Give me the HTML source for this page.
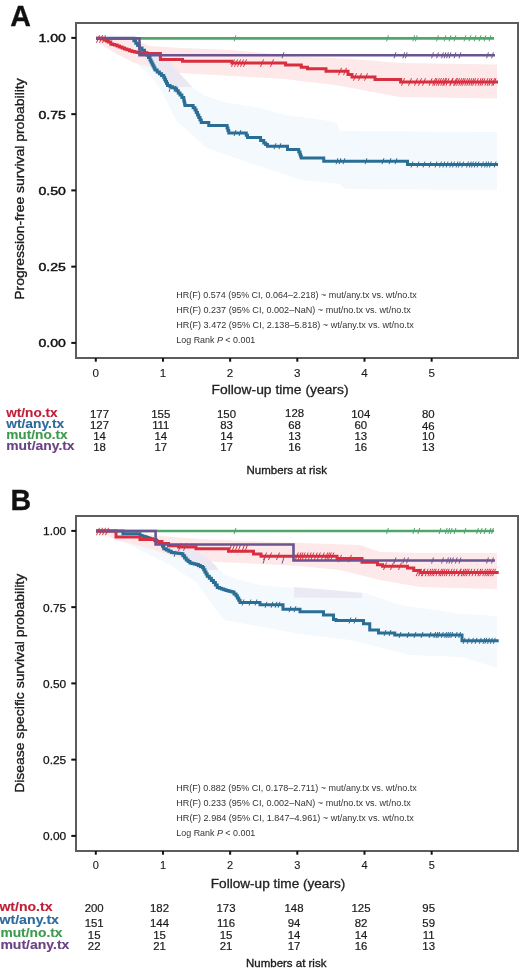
<!DOCTYPE html>
<html><head><meta charset="utf-8"><title>Kaplan-Meier survival curves</title><style>html,body{margin:0;padding:0;background:#fff;width:520px;height:970px;overflow:hidden}svg{display:block}</style></head><body>
<svg width="520" height="970" viewBox="0 0 520 970" font-family="'Liberation Sans', Arial, Helvetica, sans-serif">
<rect width="520" height="970" fill="#ffffff"/>
<polygon fill="#f4f9fd" points="132.0,38.3 140.0,42.0 150.0,47.0 160.0,53.0 192.0,87.0 205.0,96.0 226.0,102.5 260.0,108.0 286.0,115.0 336.0,122.0 340.0,131.0 497.0,132.0 497.0,190.0 345.0,189.0 340.0,184.0 301.0,180.0 241.0,160.0 206.0,147.5 176.0,120.0 161.0,90.0 150.0,75.0 130.0,58.0 110.0,45.0 96.0,38.3"/>
<polygon fill="#fde8ea" points="96.0,38.3 125.0,38.3 140.0,42.0 150.0,46.0 182.0,48.0 232.0,50.0 286.0,55.0 301.0,57.0 335.0,58.0 352.0,59.0 400.0,63.0 497.0,64.5 497.0,98.5 400.0,97.0 352.0,88.0 335.0,85.0 301.0,81.0 286.0,79.0 232.0,76.0 182.0,73.0 160.0,70.0 150.0,67.0 134.0,63.0 117.0,54.0 100.0,44.0 96.0,38.3"/>
<polygon fill="#ebe8f3" points="142.0,55.0 163.0,55.0 192.0,87.0 168.0,87.0 158.0,75.0 150.0,63.0"/>
<g fill="none" stroke-linejoin="miter" stroke-linecap="butt">
<path d="M96,38.3 H494" stroke="#4fa76c" stroke-width="2.7"/>
<path d="M96.00,38.30 L132.00,38.30 H133.88 V40.72 H135.75 V43.15 H137.62 V45.58 H139.50 V48.00 H142.00 V50.33 H144.50 V52.67 H147.00 V55.00 H148.50 V57.50 H150.00 V60.00 H151.00 V62.00 H152.00 V64.00 H153.00 V66.00 H154.00 V68.00 H155.00 V70.00 H157.19 V71.88 H159.38 V73.75 H161.56 V75.62 H163.75 V77.50 H164.69 V79.53 H165.62 V81.55 H166.56 V83.57 H167.50 V85.60 H170.00 V86.65 H172.50 V87.70 H175.00 V88.75 H176.67 V90.83 H178.33 V92.92 H180.00 V95.00 H181.88 V97.50 H183.75 V100.00 H184.17 V101.87 H184.58 V103.73 H185.00 V105.60 L191.25,105.60 H193.12 V107.80 H195.00 V110.00 H196.25 V112.50 H197.50 V115.00 H198.75 V117.50 H200.00 V120.00 H201.25 V122.50 L208.75,122.50 L208.75,125.60 L226.25,125.60 H227.08 V128.07 H227.92 V130.53 H228.75 V133.00 L245.00,133.00 H246.25 V135.25 H247.50 V137.50 L260.60,137.50 L260.60,140.60 H263.75 V143.00 H265.62 V144.62 H267.50 V146.25 L287.50,146.25 L287.50,149.40 L297.50,149.40 H298.75 V151.90 H300.00 V154.40 H300.62 V156.25 H301.25 V158.10 L323.75,158.10 L323.75,161.25 L407.50,161.25 L407.50,164.50 L498.00,164.50" stroke="#2b6e95" stroke-width="3.0"/>
<path d="M96.00,38.30 L100.00,38.30 H102.00 V38.90 H104.50 V40.10 H106.38 V41.05 H108.25 V42.00 H110.75 V43.90 H112.62 V44.50 H114.50 V45.10 H117.00 V46.05 H119.50 V47.00 H122.00 V47.95 H124.50 V48.90 H127.00 V49.83 H129.50 V50.75 H132.00 V51.38 H134.50 V52.00 H137.00 V52.62 H139.50 V53.25 H142.00 V53.42 H144.50 V53.60 L160.40,53.60 L160.40,59.40 L182.50,59.40 L182.50,61.25 L231.90,61.25 L231.90,63.10 L285.60,63.10 L285.60,65.00 L301.25,65.00 L301.25,67.25 L307.50,67.25 L307.50,68.75 L326.00,68.75 L326.00,71.25 L348.00,71.25 L348.00,74.40 L352.00,74.40 L352.00,76.90 L375.00,76.90 L375.00,79.40 L400.60,79.40 L400.60,81.90 L498.00,81.90" stroke="#d72f40" stroke-width="3.0"/>
<path d="M96,38.3 H139.5 V55.3 H495" stroke="#6b5490" stroke-width="2.6"/>
</g>
<g stroke="#4fa76c" stroke-width="1.0"><line x1="234.1" y1="41.3" x2="235.9" y2="35.3"/><line x1="386.6" y1="41.3" x2="388.4" y2="35.3"/><line x1="412.9" y1="41.3" x2="414.6" y2="35.3"/><line x1="415.4" y1="41.3" x2="417.1" y2="35.3"/><line x1="436.6" y1="41.3" x2="438.4" y2="35.3"/><line x1="444.1" y1="41.3" x2="445.9" y2="35.3"/><line x1="449.1" y1="41.3" x2="450.9" y2="35.3"/><line x1="454.1" y1="41.3" x2="455.9" y2="35.3"/><line x1="464.1" y1="41.3" x2="465.9" y2="35.3"/><line x1="469.1" y1="41.3" x2="470.9" y2="35.3"/><line x1="474.1" y1="41.3" x2="475.9" y2="35.3"/><line x1="479.1" y1="41.3" x2="480.9" y2="35.3"/><line x1="484.1" y1="41.3" x2="485.9" y2="35.3"/><line x1="489.1" y1="41.3" x2="490.9" y2="35.3"/></g>
<g stroke="#6b5490" stroke-width="1.0"><line x1="282.1" y1="58.3" x2="283.9" y2="52.3"/><line x1="394.1" y1="58.3" x2="395.9" y2="52.3"/><line x1="402.9" y1="58.3" x2="404.6" y2="52.3"/><line x1="405.4" y1="58.3" x2="407.1" y2="52.3"/><line x1="431.6" y1="58.3" x2="433.4" y2="52.3"/><line x1="436.6" y1="58.3" x2="438.4" y2="52.3"/><line x1="441.6" y1="58.3" x2="443.4" y2="52.3"/><line x1="444.1" y1="58.3" x2="445.9" y2="52.3"/><line x1="446.6" y1="58.3" x2="448.4" y2="52.3"/><line x1="449.1" y1="58.3" x2="450.9" y2="52.3"/><line x1="454.1" y1="58.3" x2="455.9" y2="52.3"/><line x1="459.1" y1="58.3" x2="460.9" y2="52.3"/><line x1="486.6" y1="58.3" x2="488.4" y2="52.3"/><line x1="491.6" y1="58.3" x2="493.4" y2="52.3"/></g>
<g stroke="#d72f40" stroke-width="1.0"><line x1="96.5" y1="42.8" x2="99.5" y2="35.2"/><line x1="99.5" y1="42.8" x2="102.5" y2="35.2"/><line x1="102.5" y1="42.8" x2="105.5" y2="35.2"/></g>
<g stroke="#d72f40" stroke-width="1.0"><line x1="231.5" y1="66.8" x2="234.5" y2="59.4"/><line x1="234.5" y1="66.8" x2="237.5" y2="59.4"/><line x1="237.5" y1="66.8" x2="240.5" y2="59.4"/><line x1="240.5" y1="66.8" x2="243.5" y2="59.4"/><line x1="243.5" y1="66.8" x2="246.5" y2="59.4"/><line x1="260.5" y1="66.8" x2="263.5" y2="59.4"/><line x1="270.5" y1="66.8" x2="273.5" y2="59.4"/></g>
<g stroke="#d72f40" stroke-width="1.0"><line x1="338.5" y1="75.2" x2="341.5" y2="67.8"/><line x1="343.5" y1="75.2" x2="346.5" y2="67.8"/></g>
<g stroke="#d72f40" stroke-width="1.0"><line x1="353.5" y1="80.7" x2="356.5" y2="73.2"/><line x1="358.5" y1="80.7" x2="361.5" y2="73.2"/><line x1="364.5" y1="80.7" x2="367.5" y2="73.2"/></g>
<g stroke="#d72f40" stroke-width="1.0"><line x1="401.5" y1="85.7" x2="404.5" y2="78.2"/><line x1="408.5" y1="85.7" x2="411.5" y2="78.2"/><line x1="414.5" y1="85.7" x2="417.5" y2="78.2"/><line x1="418.5" y1="85.7" x2="421.5" y2="78.2"/><line x1="422.5" y1="85.7" x2="425.5" y2="78.2"/><line x1="429.1" y1="85.7" x2="432.1" y2="78.2"/><line x1="432.6" y1="85.7" x2="435.6" y2="78.2"/><line x1="434.1" y1="85.7" x2="437.1" y2="78.2"/><line x1="436.4" y1="85.7" x2="439.4" y2="78.2"/><line x1="438.4" y1="85.7" x2="441.4" y2="78.2"/><line x1="440.7" y1="85.7" x2="443.7" y2="78.2"/><line x1="442.7" y1="85.7" x2="445.7" y2="78.2"/><line x1="443.7" y1="85.7" x2="446.7" y2="78.2"/><line x1="446.0" y1="85.7" x2="449.0" y2="78.2"/><line x1="449.7" y1="85.7" x2="452.7" y2="78.2"/><line x1="450.1" y1="85.7" x2="453.1" y2="78.2"/><line x1="453.5" y1="85.7" x2="456.5" y2="78.2"/><line x1="454.6" y1="85.7" x2="457.6" y2="78.2"/><line x1="456.5" y1="85.7" x2="459.5" y2="78.2"/><line x1="458.7" y1="85.7" x2="461.7" y2="78.2"/><line x1="460.7" y1="85.7" x2="463.7" y2="78.2"/><line x1="462.4" y1="85.7" x2="465.4" y2="78.2"/><line x1="464.7" y1="85.7" x2="467.7" y2="78.2"/><line x1="466.7" y1="85.7" x2="469.7" y2="78.2"/><line x1="468.8" y1="85.7" x2="471.8" y2="78.2"/><line x1="470.9" y1="85.7" x2="473.9" y2="78.2"/><line x1="472.6" y1="85.7" x2="475.6" y2="78.2"/><line x1="475.3" y1="85.7" x2="478.3" y2="78.2"/><line x1="478.1" y1="85.7" x2="481.1" y2="78.2"/><line x1="480.0" y1="85.7" x2="483.0" y2="78.2"/><line x1="481.9" y1="85.7" x2="484.9" y2="78.2"/><line x1="484.9" y1="85.7" x2="487.9" y2="78.2"/><line x1="487.2" y1="85.7" x2="490.2" y2="78.2"/><line x1="489.0" y1="85.7" x2="492.0" y2="78.2"/><line x1="491.7" y1="85.7" x2="494.7" y2="78.2"/><line x1="493.0" y1="85.7" x2="496.0" y2="78.2"/></g>
<g stroke="#2b6e95" stroke-width="1.0"><line x1="169.1" y1="91.8" x2="170.9" y2="85.8"/><line x1="174.1" y1="91.8" x2="175.9" y2="85.8"/></g>
<g stroke="#2b6e95" stroke-width="1.0"><line x1="234.1" y1="136.0" x2="235.9" y2="130.0"/><line x1="239.1" y1="136.0" x2="240.9" y2="130.0"/></g>
<g stroke="#2b6e95" stroke-width="1.0"><line x1="274.1" y1="149.2" x2="275.9" y2="143.2"/><line x1="279.1" y1="149.2" x2="280.9" y2="143.2"/></g>
<g stroke="#2b6e95" stroke-width="1.0"><line x1="336.1" y1="164.2" x2="337.9" y2="158.2"/><line x1="339.1" y1="164.2" x2="340.9" y2="158.2"/><line x1="343.1" y1="164.2" x2="344.9" y2="158.2"/><line x1="365.1" y1="164.2" x2="366.9" y2="158.2"/><line x1="382.1" y1="164.2" x2="383.9" y2="158.2"/><line x1="389.1" y1="164.2" x2="390.9" y2="158.2"/><line x1="395.1" y1="164.2" x2="396.9" y2="158.2"/></g>
<g stroke="#2b6e95" stroke-width="1.0"><line x1="411.1" y1="167.5" x2="412.9" y2="161.5"/><line x1="417.1" y1="167.5" x2="418.9" y2="161.5"/><line x1="423.1" y1="167.5" x2="424.9" y2="161.5"/><line x1="429.1" y1="167.5" x2="430.9" y2="161.5"/><line x1="435.1" y1="167.5" x2="436.9" y2="161.5"/><line x1="439.6" y1="167.5" x2="441.4" y2="161.5"/><line x1="442.9" y1="167.5" x2="444.7" y2="161.5"/><line x1="446.2" y1="167.5" x2="448.0" y2="161.5"/><line x1="449.8" y1="167.5" x2="451.6" y2="161.5"/><line x1="452.6" y1="167.5" x2="454.4" y2="161.5"/><line x1="456.1" y1="167.5" x2="457.9" y2="161.5"/><line x1="458.4" y1="167.5" x2="460.2" y2="161.5"/><line x1="461.8" y1="167.5" x2="463.6" y2="161.5"/><line x1="466.6" y1="167.5" x2="468.4" y2="161.5"/><line x1="469.4" y1="167.5" x2="471.2" y2="161.5"/><line x1="471.6" y1="167.5" x2="473.4" y2="161.5"/><line x1="474.3" y1="167.5" x2="476.1" y2="161.5"/><line x1="477.1" y1="167.5" x2="478.9" y2="161.5"/><line x1="481.5" y1="167.5" x2="483.3" y2="161.5"/><line x1="484.6" y1="167.5" x2="486.4" y2="161.5"/><line x1="486.9" y1="167.5" x2="488.7" y2="161.5"/><line x1="489.5" y1="167.5" x2="491.3" y2="161.5"/><line x1="494.2" y1="167.5" x2="496.0" y2="161.5"/></g>
<polygon fill="#f4f9fd" points="123.0,531.0 145.0,533.0 165.0,540.0 180.0,546.0 196.0,551.0 208.0,558.0 218.0,568.0 225.0,575.0 240.0,580.0 260.0,585.0 294.0,588.0 330.0,590.0 362.0,592.0 400.0,605.0 462.0,614.0 497.0,616.0 497.0,668.0 462.0,657.0 410.0,655.0 350.0,640.0 300.0,634.0 224.0,620.0 196.0,582.0 170.0,565.0 140.0,550.0 111.0,534.5 96.0,531.0"/>
<polygon fill="#fde8ea" points="96.0,531.0 116.0,531.0 140.0,533.0 160.0,536.0 200.0,539.0 250.0,541.0 300.0,543.0 360.0,545.0 380.0,552.0 420.0,553.0 497.0,553.0 497.0,589.0 420.0,587.0 380.0,580.0 340.0,570.0 300.0,566.0 260.0,564.0 217.0,562.0 180.0,558.0 160.0,552.0 140.0,546.0 116.0,540.0 96.0,531.0"/>
<polygon fill="#ebe8f3" points="162.0,545.0 183.0,547.0 196.0,551.0 208.0,558.0 216.0,566.0 218.0,570.0 200.0,570.0 190.0,563.0 181.0,554.0 171.0,552.0 164.0,548.0"/>
<polygon fill="#ebe9f4" points="294.0,587.0 330.0,590.0 362.0,593.0 362.0,598.0 294.0,597.5"/>
<g fill="none" stroke-linejoin="miter" stroke-linecap="butt">
<path d="M96,531 H494" stroke="#4fa76c" stroke-width="2.7"/>
<path d="M96.00,531.00 L123.00,531.00 L123.00,533.75 L140.00,533.75 L140.00,535.60 H142.08 V536.23 H144.17 V536.87 H146.25 V537.50 H148.33 V538.13 H150.42 V538.77 H152.50 V539.40 H154.69 V540.49 H156.88 V541.58 H159.06 V542.66 H161.25 V543.75 H162.50 V546.25 H163.75 V548.75 H166.25 V550.00 H168.75 V551.25 H171.25 V552.50 H173.25 V552.75 H175.25 V553.00 H177.25 V553.25 H179.25 V553.50 H181.25 V553.75 H182.92 V555.83 H184.58 V557.92 H186.25 V560.00 H188.12 V561.50 H190.00 V563.00 H192.08 V563.47 H194.17 V563.93 H196.25 V564.40 H198.33 V565.43 H200.42 V566.47 H202.50 V567.50 H203.69 V569.69 H204.88 V571.88 H206.06 V574.06 H207.25 V576.25 H209.33 V578.33 H211.42 V580.42 H213.50 V582.50 H215.38 V585.00 H217.25 V587.50 H219.44 V588.23 H221.62 V588.95 H223.81 V589.67 H226.00 V590.40 H228.00 V590.93 H230.00 V591.47 H232.00 V592.00 H234.00 V593.90 H236.00 V595.80 H237.33 V598.03 H238.67 V600.27 H240.00 V602.50 L260.00,602.50 L260.00,604.80 L283.00,604.80 L283.00,609.20 L300.00,609.20 L300.00,611.80 L323.50,611.80 L323.50,615.00 L333.50,615.00 L333.50,619.50 L336.00,619.50 L336.00,620.50 L363.50,620.50 L363.50,623.75 L369.75,623.75 L369.75,630.00 L378.50,630.00 L378.50,633.00 L394.75,633.00 L394.75,635.00 L462.00,635.00 L462.00,640.80 L498.70,640.80" stroke="#2b6e95" stroke-width="3.0"/>
<path d="M96,531 H116 V537 H140 V539.5 H156 V541.5 H162 V543.5 H168.5 V545.75 H178.5 V547 H196 V548.75 H228.5 V551.25 H253.5 V554 H261 V556.3 H337 V558.5 H362 V562.3 H377.5 V564.8 H382.5 V566.25 H407.5 V568 H413.75 V570.6 H420 V572.5 H498.7" stroke="#d72f40" stroke-width="3.0"/>
<path d="M96,531 H155.6 V544.5 H293.5 V560.5 H495" stroke="#6b5490" stroke-width="2.6"/>
</g>
<g stroke="#4fa76c" stroke-width="1.0"><line x1="234.1" y1="534.0" x2="235.9" y2="528.0"/><line x1="386.6" y1="534.0" x2="388.4" y2="528.0"/><line x1="412.9" y1="534.0" x2="414.6" y2="528.0"/><line x1="417.9" y1="534.0" x2="419.6" y2="528.0"/><line x1="439.1" y1="534.0" x2="440.9" y2="528.0"/><line x1="445.4" y1="534.0" x2="447.1" y2="528.0"/><line x1="447.9" y1="534.0" x2="449.6" y2="528.0"/><line x1="450.4" y1="534.0" x2="452.1" y2="528.0"/><line x1="454.1" y1="534.0" x2="455.9" y2="528.0"/><line x1="464.1" y1="534.0" x2="465.9" y2="528.0"/><line x1="476.6" y1="534.0" x2="478.4" y2="528.0"/><line x1="480.4" y1="534.0" x2="482.1" y2="528.0"/><line x1="484.1" y1="534.0" x2="485.9" y2="528.0"/><line x1="489.1" y1="534.0" x2="490.9" y2="528.0"/><line x1="491.6" y1="534.0" x2="493.4" y2="528.0"/></g>
<g stroke="#6b5490" stroke-width="1.0"><line x1="263.1" y1="563.5" x2="264.9" y2="557.5"/><line x1="282.1" y1="563.5" x2="283.9" y2="557.5"/><line x1="394.1" y1="563.5" x2="395.9" y2="557.5"/><line x1="402.9" y1="563.5" x2="404.6" y2="557.5"/><line x1="406.6" y1="563.5" x2="408.4" y2="557.5"/><line x1="431.6" y1="563.5" x2="433.4" y2="557.5"/><line x1="441.6" y1="563.5" x2="443.4" y2="557.5"/><line x1="446.6" y1="563.5" x2="448.4" y2="557.5"/><line x1="449.1" y1="563.5" x2="450.9" y2="557.5"/><line x1="451.6" y1="563.5" x2="453.4" y2="557.5"/><line x1="455.4" y1="563.5" x2="457.1" y2="557.5"/><line x1="459.1" y1="563.5" x2="460.9" y2="557.5"/><line x1="486.6" y1="563.5" x2="488.4" y2="557.5"/><line x1="491.6" y1="563.5" x2="493.4" y2="557.5"/></g>
<g stroke="#d72f40" stroke-width="1.0"><line x1="96.5" y1="535.2" x2="99.5" y2="527.8"/><line x1="99.5" y1="535.2" x2="102.5" y2="527.8"/><line x1="102.5" y1="535.2" x2="105.5" y2="527.8"/><line x1="105.5" y1="535.2" x2="108.5" y2="527.8"/></g>
<g stroke="#d72f40" stroke-width="1.0"><line x1="178.5" y1="550.8" x2="181.5" y2="543.2"/><line x1="183.5" y1="550.8" x2="186.5" y2="543.2"/></g>
<g stroke="#d72f40" stroke-width="1.0"><line x1="228.5" y1="552.5" x2="231.5" y2="545.0"/><line x1="231.5" y1="552.5" x2="234.5" y2="545.0"/><line x1="234.5" y1="552.5" x2="237.5" y2="545.0"/><line x1="237.5" y1="552.5" x2="240.5" y2="545.0"/><line x1="241.5" y1="552.5" x2="244.5" y2="545.0"/><line x1="244.5" y1="552.5" x2="247.5" y2="545.0"/></g>
<g stroke="#d72f40" stroke-width="1.0"><line x1="263.5" y1="560.0" x2="266.5" y2="552.5"/><line x1="268.5" y1="560.0" x2="271.5" y2="552.5"/><line x1="276.5" y1="560.0" x2="279.5" y2="552.5"/></g>
<g stroke="#d72f40" stroke-width="1.0"><line x1="295.3" y1="560.0" x2="298.3" y2="552.5"/><line x1="298.0" y1="560.0" x2="301.0" y2="552.5"/><line x1="300.0" y1="560.0" x2="303.0" y2="552.5"/><line x1="302.2" y1="560.0" x2="305.2" y2="552.5"/><line x1="305.2" y1="560.0" x2="308.2" y2="552.5"/><line x1="308.2" y1="560.0" x2="311.2" y2="552.5"/><line x1="310.8" y1="560.0" x2="313.8" y2="552.5"/><line x1="314.3" y1="560.0" x2="317.3" y2="552.5"/><line x1="317.3" y1="560.0" x2="320.3" y2="552.5"/><line x1="321.3" y1="560.0" x2="324.3" y2="552.5"/><line x1="324.7" y1="560.0" x2="327.7" y2="552.5"/><line x1="326.6" y1="560.0" x2="329.6" y2="552.5"/><line x1="328.3" y1="560.0" x2="331.3" y2="552.5"/><line x1="330.8" y1="560.0" x2="333.8" y2="552.5"/></g>
<g stroke="#d72f40" stroke-width="1.0"><line x1="338.5" y1="562.2" x2="341.5" y2="554.8"/><line x1="348.5" y1="562.2" x2="351.5" y2="554.8"/></g>
<g stroke="#d72f40" stroke-width="1.0"><line x1="383.5" y1="570.0" x2="386.5" y2="562.5"/><line x1="390.5" y1="570.0" x2="393.5" y2="562.5"/><line x1="398.5" y1="570.0" x2="401.5" y2="562.5"/></g>
<g stroke="#d72f40" stroke-width="1.0"><line x1="416.2" y1="576.2" x2="419.2" y2="568.8"/><line x1="418.6" y1="576.2" x2="421.6" y2="568.8"/><line x1="421.3" y1="576.2" x2="424.3" y2="568.8"/><line x1="422.1" y1="576.2" x2="425.1" y2="568.8"/><line x1="425.1" y1="576.2" x2="428.1" y2="568.8"/><line x1="427.8" y1="576.2" x2="430.8" y2="568.8"/><line x1="429.7" y1="576.2" x2="432.7" y2="568.8"/><line x1="431.6" y1="576.2" x2="434.6" y2="568.8"/><line x1="433.3" y1="576.2" x2="436.3" y2="568.8"/><line x1="435.9" y1="576.2" x2="438.9" y2="568.8"/><line x1="438.7" y1="576.2" x2="441.7" y2="568.8"/><line x1="440.3" y1="576.2" x2="443.3" y2="568.8"/><line x1="442.1" y1="576.2" x2="445.1" y2="568.8"/><line x1="444.2" y1="576.2" x2="447.2" y2="568.8"/><line x1="446.2" y1="576.2" x2="449.2" y2="568.8"/><line x1="449.0" y1="576.2" x2="452.0" y2="568.8"/><line x1="451.5" y1="576.2" x2="454.5" y2="568.8"/><line x1="454.2" y1="576.2" x2="457.2" y2="568.8"/><line x1="457.7" y1="576.2" x2="460.7" y2="568.8"/><line x1="458.3" y1="576.2" x2="461.3" y2="568.8"/><line x1="461.1" y1="576.2" x2="464.1" y2="568.8"/><line x1="462.8" y1="576.2" x2="465.8" y2="568.8"/><line x1="464.5" y1="576.2" x2="467.5" y2="568.8"/><line x1="466.3" y1="576.2" x2="469.3" y2="568.8"/><line x1="468.9" y1="576.2" x2="471.9" y2="568.8"/><line x1="471.9" y1="576.2" x2="474.9" y2="568.8"/><line x1="475.0" y1="576.2" x2="478.0" y2="568.8"/><line x1="477.8" y1="576.2" x2="480.8" y2="568.8"/><line x1="479.6" y1="576.2" x2="482.6" y2="568.8"/><line x1="482.6" y1="576.2" x2="485.6" y2="568.8"/><line x1="484.7" y1="576.2" x2="487.7" y2="568.8"/><line x1="486.6" y1="576.2" x2="489.6" y2="568.8"/><line x1="488.3" y1="576.2" x2="491.3" y2="568.8"/><line x1="490.5" y1="576.2" x2="493.5" y2="568.8"/><line x1="492.5" y1="576.2" x2="495.5" y2="568.8"/></g>
<g stroke="#2b6e95" stroke-width="1.0"><line x1="174.1" y1="556.8" x2="175.9" y2="550.8"/></g>
<g stroke="#2b6e95" stroke-width="1.0"><line x1="242.1" y1="605.5" x2="243.9" y2="599.5"/><line x1="249.1" y1="605.5" x2="250.9" y2="599.5"/><line x1="255.1" y1="605.5" x2="256.9" y2="599.5"/></g>
<g stroke="#2b6e95" stroke-width="1.0"><line x1="265.1" y1="607.8" x2="266.9" y2="601.8"/><line x1="271.1" y1="607.8" x2="272.9" y2="601.8"/><line x1="275.1" y1="607.8" x2="276.9" y2="601.8"/><line x1="278.1" y1="607.8" x2="279.9" y2="601.8"/></g>
<g stroke="#2b6e95" stroke-width="1.0"><line x1="289.1" y1="612.2" x2="290.9" y2="606.2"/><line x1="294.1" y1="612.2" x2="295.9" y2="606.2"/></g>
<g stroke="#2b6e95" stroke-width="1.0"><line x1="349.1" y1="623.5" x2="350.9" y2="617.5"/><line x1="354.1" y1="623.5" x2="355.9" y2="617.5"/></g>
<g stroke="#2b6e95" stroke-width="1.0"><line x1="384.1" y1="636.0" x2="385.9" y2="630.0"/><line x1="389.1" y1="636.0" x2="390.9" y2="630.0"/></g>
<g stroke="#2b6e95" stroke-width="1.0"><line x1="399.1" y1="638.0" x2="400.9" y2="632.0"/><line x1="407.1" y1="638.0" x2="408.9" y2="632.0"/><line x1="414.1" y1="638.0" x2="415.9" y2="632.0"/><line x1="421.1" y1="638.0" x2="422.9" y2="632.0"/><line x1="429.1" y1="638.0" x2="430.9" y2="632.0"/><line x1="433.8" y1="638.0" x2="435.6" y2="632.0"/><line x1="436.0" y1="638.0" x2="437.8" y2="632.0"/><line x1="437.8" y1="638.0" x2="439.6" y2="632.0"/><line x1="441.4" y1="638.0" x2="443.2" y2="632.0"/><line x1="444.7" y1="638.0" x2="446.5" y2="632.0"/><line x1="446.7" y1="638.0" x2="448.5" y2="632.0"/><line x1="448.7" y1="638.0" x2="450.5" y2="632.0"/><line x1="450.8" y1="638.0" x2="452.6" y2="632.0"/><line x1="455.3" y1="638.0" x2="457.1" y2="632.0"/><line x1="458.7" y1="638.0" x2="460.5" y2="632.0"/></g>
<g stroke="#2b6e95" stroke-width="1.0"><line x1="463.2" y1="643.8" x2="465.0" y2="637.8"/><line x1="467.3" y1="643.8" x2="469.1" y2="637.8"/><line x1="471.6" y1="643.8" x2="473.4" y2="637.8"/><line x1="475.1" y1="643.8" x2="476.9" y2="637.8"/><line x1="479.4" y1="643.8" x2="481.2" y2="637.8"/><line x1="483.0" y1="643.8" x2="484.8" y2="637.8"/><line x1="484.9" y1="643.8" x2="486.7" y2="637.8"/><line x1="487.6" y1="643.8" x2="489.4" y2="637.8"/><line x1="490.5" y1="643.8" x2="492.3" y2="637.8"/><line x1="493.4" y1="643.8" x2="495.2" y2="637.8"/></g>
<text x="10.3" y="26.2" font-size="28.6" font-weight="700" fill="#111" stroke="#111" stroke-width="0.3">A</text>
<rect x="76" y="23.0" width="442" height="335" fill="none" stroke="#5c5c5c" stroke-width="2"/>
<line x1="71.3" y1="37.90" x2="76" y2="37.90" stroke="#111" stroke-width="2"/>
<text x="65.9" y="42.3" font-size="11.8" fill="#111" text-anchor="end" textLength="27.4" lengthAdjust="spacingAndGlyphs" stroke="#111" stroke-width="0.45">1.00</text>
<line x1="71.3" y1="114.15" x2="76" y2="114.15" stroke="#111" stroke-width="2"/>
<text x="65.9" y="118.6" font-size="11.8" fill="#111" text-anchor="end" textLength="27.4" lengthAdjust="spacingAndGlyphs" stroke="#111" stroke-width="0.45">0.75</text>
<line x1="71.3" y1="190.40" x2="76" y2="190.40" stroke="#111" stroke-width="2"/>
<text x="65.9" y="194.8" font-size="11.8" fill="#111" text-anchor="end" textLength="27.4" lengthAdjust="spacingAndGlyphs" stroke="#111" stroke-width="0.45">0.50</text>
<line x1="71.3" y1="266.65" x2="76" y2="266.65" stroke="#111" stroke-width="2"/>
<text x="65.9" y="271.0" font-size="11.8" fill="#111" text-anchor="end" textLength="27.4" lengthAdjust="spacingAndGlyphs" stroke="#111" stroke-width="0.45">0.25</text>
<line x1="71.3" y1="342.90" x2="76" y2="342.90" stroke="#111" stroke-width="2"/>
<text x="65.9" y="347.3" font-size="11.8" fill="#111" text-anchor="end" textLength="27.4" lengthAdjust="spacingAndGlyphs" stroke="#111" stroke-width="0.45">0.00</text>
<line x1="95.80" y1="358.0" x2="95.80" y2="361.7" stroke="#111" stroke-width="2"/>
<text x="95.8" y="377.0" font-size="11.6" fill="#1a1a1a" text-anchor="middle" stroke="#1a1a1a" stroke-width="0.12">0</text>
<line x1="162.97" y1="358.0" x2="162.97" y2="361.7" stroke="#111" stroke-width="2"/>
<text x="163.0" y="377.0" font-size="11.6" fill="#1a1a1a" text-anchor="middle" stroke="#1a1a1a" stroke-width="0.12">1</text>
<line x1="230.14" y1="358.0" x2="230.14" y2="361.7" stroke="#111" stroke-width="2"/>
<text x="230.1" y="377.0" font-size="11.6" fill="#1a1a1a" text-anchor="middle" stroke="#1a1a1a" stroke-width="0.12">2</text>
<line x1="297.31" y1="358.0" x2="297.31" y2="361.7" stroke="#111" stroke-width="2"/>
<text x="297.3" y="377.0" font-size="11.6" fill="#1a1a1a" text-anchor="middle" stroke="#1a1a1a" stroke-width="0.12">3</text>
<line x1="364.48" y1="358.0" x2="364.48" y2="361.7" stroke="#111" stroke-width="2"/>
<text x="364.5" y="377.0" font-size="11.6" fill="#1a1a1a" text-anchor="middle" stroke="#1a1a1a" stroke-width="0.12">4</text>
<line x1="431.65" y1="358.0" x2="431.65" y2="361.7" stroke="#111" stroke-width="2"/>
<text x="431.7" y="377.0" font-size="11.6" fill="#1a1a1a" text-anchor="middle" stroke="#1a1a1a" stroke-width="0.12">5</text>
<text x="211.5" y="393.7" font-size="12.3" fill="#222" textLength="137.0" lengthAdjust="spacingAndGlyphs" stroke="#222" stroke-width="0.28">Follow-up time (years)</text>
<text transform="translate(24.3,299.8) rotate(-90)" font-size="13.6" fill="#1a1a1a" stroke="#1a1a1a" stroke-width="0.35" textLength="221.5" lengthAdjust="spacingAndGlyphs">Progression-free survival probability</text>
<text x="176.3" y="298.4" font-size="9.6" fill="#333" textLength="240.5" lengthAdjust="spacingAndGlyphs">HR(F) 0.574 (95% CI, 0.064–2.218) ~ mut/any.tx vs. wt/no.tx</text>
<text x="176.3" y="313.4" font-size="9.6" fill="#333" textLength="234.5" lengthAdjust="spacingAndGlyphs">HR(F) 0.237 (95% CI, 0.002–NaN) ~ mut/no.tx vs. wt/no.tx</text>
<text x="176.3" y="328.4" font-size="9.6" fill="#333" textLength="237.5" lengthAdjust="spacingAndGlyphs">HR(F) 3.472 (95% CI, 2.138–5.818) ~ wt/any.tx vs. wt/no.tx</text>
<text x="176.3" y="343.4" font-size="9.6" fill="#333" textLength="79.0" lengthAdjust="spacingAndGlyphs">Log Rank <tspan font-style="italic">P</tspan> &lt; 0.001</text>
<text x="10.6" y="509.8" font-size="28.6" font-weight="700" fill="#111" stroke="#111" stroke-width="0.3">B</text>
<rect x="76" y="516.0" width="442" height="335" fill="none" stroke="#5c5c5c" stroke-width="2"/>
<line x1="71.3" y1="530.90" x2="76" y2="530.90" stroke="#111" stroke-width="2"/>
<text x="66.2" y="535.3" font-size="11.2" fill="#111" text-anchor="end" textLength="23.2" lengthAdjust="spacingAndGlyphs" stroke="#111" stroke-width="0.25">1.00</text>
<line x1="71.3" y1="607.15" x2="76" y2="607.15" stroke="#111" stroke-width="2"/>
<text x="66.2" y="611.5" font-size="11.2" fill="#111" text-anchor="end" textLength="23.2" lengthAdjust="spacingAndGlyphs" stroke="#111" stroke-width="0.25">0.75</text>
<line x1="71.3" y1="683.40" x2="76" y2="683.40" stroke="#111" stroke-width="2"/>
<text x="66.2" y="687.8" font-size="11.2" fill="#111" text-anchor="end" textLength="23.2" lengthAdjust="spacingAndGlyphs" stroke="#111" stroke-width="0.25">0.50</text>
<line x1="71.3" y1="759.65" x2="76" y2="759.65" stroke="#111" stroke-width="2"/>
<text x="66.2" y="764.0" font-size="11.2" fill="#111" text-anchor="end" textLength="23.2" lengthAdjust="spacingAndGlyphs" stroke="#111" stroke-width="0.25">0.25</text>
<line x1="71.3" y1="835.90" x2="76" y2="835.90" stroke="#111" stroke-width="2"/>
<text x="66.2" y="840.3" font-size="11.2" fill="#111" text-anchor="end" textLength="23.2" lengthAdjust="spacingAndGlyphs" stroke="#111" stroke-width="0.25">0.00</text>
<line x1="95.80" y1="851.0" x2="95.80" y2="854.7" stroke="#111" stroke-width="2"/>
<text x="95.8" y="868.5" font-size="11.0" fill="#1a1a1a" text-anchor="middle" stroke="#1a1a1a" stroke-width="0.12">0</text>
<line x1="162.97" y1="851.0" x2="162.97" y2="854.7" stroke="#111" stroke-width="2"/>
<text x="163.0" y="868.5" font-size="11.0" fill="#1a1a1a" text-anchor="middle" stroke="#1a1a1a" stroke-width="0.12">1</text>
<line x1="230.14" y1="851.0" x2="230.14" y2="854.7" stroke="#111" stroke-width="2"/>
<text x="230.1" y="868.5" font-size="11.0" fill="#1a1a1a" text-anchor="middle" stroke="#1a1a1a" stroke-width="0.12">2</text>
<line x1="297.31" y1="851.0" x2="297.31" y2="854.7" stroke="#111" stroke-width="2"/>
<text x="297.3" y="868.5" font-size="11.0" fill="#1a1a1a" text-anchor="middle" stroke="#1a1a1a" stroke-width="0.12">3</text>
<line x1="364.48" y1="851.0" x2="364.48" y2="854.7" stroke="#111" stroke-width="2"/>
<text x="364.5" y="868.5" font-size="11.0" fill="#1a1a1a" text-anchor="middle" stroke="#1a1a1a" stroke-width="0.12">4</text>
<line x1="431.65" y1="851.0" x2="431.65" y2="854.7" stroke="#111" stroke-width="2"/>
<text x="431.7" y="868.5" font-size="11.0" fill="#1a1a1a" text-anchor="middle" stroke="#1a1a1a" stroke-width="0.12">5</text>
<text x="210.8" y="887.8" font-size="12.3" fill="#222" textLength="134.5" lengthAdjust="spacingAndGlyphs" stroke="#222" stroke-width="0.28">Follow-up time (years)</text>
<text transform="translate(24.3,792.8) rotate(-90)" font-size="13.6" fill="#1a1a1a" stroke="#1a1a1a" stroke-width="0.35" textLength="219.0" lengthAdjust="spacingAndGlyphs">Disease specific survival probability</text>
<text x="176.3" y="791.4" font-size="9.6" fill="#333" textLength="240.5" lengthAdjust="spacingAndGlyphs">HR(F) 0.882 (95% CI, 0.178–2.711) ~ mut/any.tx vs. wt/no.tx</text>
<text x="176.3" y="806.4" font-size="9.6" fill="#333" textLength="234.5" lengthAdjust="spacingAndGlyphs">HR(F) 0.233 (95% CI, 0.002–NaN) ~ mut/no.tx vs. wt/no.tx</text>
<text x="176.3" y="821.4" font-size="9.6" fill="#333" textLength="237.5" lengthAdjust="spacingAndGlyphs">HR(F) 2.984 (95% CI, 1.847–4.961) ~ wt/any.tx vs. wt/no.tx</text>
<text x="176.3" y="836.4" font-size="9.6" fill="#333" textLength="79.0" lengthAdjust="spacingAndGlyphs">Log Rank <tspan font-style="italic">P</tspan> &lt; 0.001</text>
<text x="6.2" y="416.6" font-size="12.4" font-weight="700" fill="#c01f38" textLength="51.5" lengthAdjust="spacingAndGlyphs" stroke="#c01f38" stroke-width="0.12">wt/no.tx</text>
<text x="99.5" y="418.1" font-size="11.4" fill="#1a1a1a" text-anchor="middle" stroke="#1a1a1a" stroke-width="0.2">177</text>
<text x="160.8" y="418.1" font-size="11.4" fill="#1a1a1a" text-anchor="middle" stroke="#1a1a1a" stroke-width="0.2">155</text>
<text x="226.5" y="418.1" font-size="11.4" fill="#1a1a1a" text-anchor="middle" stroke="#1a1a1a" stroke-width="0.2">150</text>
<text x="294.6" y="417.1" font-size="11.4" fill="#1a1a1a" text-anchor="middle" stroke="#1a1a1a" stroke-width="0.2">128</text>
<text x="360.8" y="418.1" font-size="11.4" fill="#1a1a1a" text-anchor="middle" stroke="#1a1a1a" stroke-width="0.2">104</text>
<text x="428.3" y="418.1" font-size="11.4" fill="#1a1a1a" text-anchor="middle" stroke="#1a1a1a" stroke-width="0.2">80</text>
<text x="6.2" y="427.9" font-size="12.4" font-weight="700" fill="#2d6b9c" textLength="58.0" lengthAdjust="spacingAndGlyphs" stroke="#2d6b9c" stroke-width="0.12">wt/any.tx</text>
<text x="99.5" y="429.0" font-size="11.4" fill="#1a1a1a" text-anchor="middle" stroke="#1a1a1a" stroke-width="0.2">127</text>
<text x="160.8" y="429.0" font-size="11.4" fill="#1a1a1a" text-anchor="middle" stroke="#1a1a1a" stroke-width="0.2">111</text>
<text x="226.5" y="429.0" font-size="11.4" fill="#1a1a1a" text-anchor="middle" stroke="#1a1a1a" stroke-width="0.2">83</text>
<text x="294.6" y="429.0" font-size="11.4" fill="#1a1a1a" text-anchor="middle" stroke="#1a1a1a" stroke-width="0.2">68</text>
<text x="360.8" y="429.0" font-size="11.4" fill="#1a1a1a" text-anchor="middle" stroke="#1a1a1a" stroke-width="0.2">60</text>
<text x="428.3" y="429.8" font-size="11.4" fill="#1a1a1a" text-anchor="middle" stroke="#1a1a1a" stroke-width="0.2">46</text>
<text x="6.2" y="438.6" font-size="12.4" font-weight="700" fill="#3d9a4e" textLength="61.5" lengthAdjust="spacingAndGlyphs" stroke="#3d9a4e" stroke-width="0.12">mut/no.tx</text>
<text x="99.5" y="439.8" font-size="11.4" fill="#1a1a1a" text-anchor="middle" stroke="#1a1a1a" stroke-width="0.2">14</text>
<text x="160.8" y="439.8" font-size="11.4" fill="#1a1a1a" text-anchor="middle" stroke="#1a1a1a" stroke-width="0.2">14</text>
<text x="226.5" y="439.8" font-size="11.4" fill="#1a1a1a" text-anchor="middle" stroke="#1a1a1a" stroke-width="0.2">14</text>
<text x="294.6" y="439.8" font-size="11.4" fill="#1a1a1a" text-anchor="middle" stroke="#1a1a1a" stroke-width="0.2">13</text>
<text x="360.8" y="439.8" font-size="11.4" fill="#1a1a1a" text-anchor="middle" stroke="#1a1a1a" stroke-width="0.2">13</text>
<text x="428.3" y="439.8" font-size="11.4" fill="#1a1a1a" text-anchor="middle" stroke="#1a1a1a" stroke-width="0.2">10</text>
<text x="6.2" y="449.8" font-size="12.4" font-weight="700" fill="#6a4385" textLength="68.4" lengthAdjust="spacingAndGlyphs" stroke="#6a4385" stroke-width="0.12">mut/any.tx</text>
<text x="99.5" y="450.8" font-size="11.4" fill="#1a1a1a" text-anchor="middle" stroke="#1a1a1a" stroke-width="0.2">18</text>
<text x="160.8" y="450.8" font-size="11.4" fill="#1a1a1a" text-anchor="middle" stroke="#1a1a1a" stroke-width="0.2">17</text>
<text x="226.5" y="450.8" font-size="11.4" fill="#1a1a1a" text-anchor="middle" stroke="#1a1a1a" stroke-width="0.2">17</text>
<text x="294.6" y="450.8" font-size="11.4" fill="#1a1a1a" text-anchor="middle" stroke="#1a1a1a" stroke-width="0.2">16</text>
<text x="360.8" y="450.8" font-size="11.4" fill="#1a1a1a" text-anchor="middle" stroke="#1a1a1a" stroke-width="0.2">16</text>
<text x="428.3" y="450.8" font-size="11.4" fill="#1a1a1a" text-anchor="middle" stroke="#1a1a1a" stroke-width="0.2">13</text>
<text x="246.5" y="474.0" font-size="11.2" fill="#1a1a1a" textLength="80.4" lengthAdjust="spacingAndGlyphs" stroke="#1a1a1a" stroke-width="0.32">Numbers at risk</text>
<text x="-0.6" y="911.3" font-size="12.1" font-weight="700" fill="#c01f38" textLength="53.1" lengthAdjust="spacingAndGlyphs" stroke="#c01f38" stroke-width="0.12">wt/no.tx</text>
<text x="94.2" y="911.9" font-size="11.4" fill="#1a1a1a" text-anchor="middle" stroke="#1a1a1a" stroke-width="0.2">200</text>
<text x="159.5" y="911.9" font-size="11.4" fill="#1a1a1a" text-anchor="middle" stroke="#1a1a1a" stroke-width="0.2">182</text>
<text x="226.0" y="911.9" font-size="11.4" fill="#1a1a1a" text-anchor="middle" stroke="#1a1a1a" stroke-width="0.2">173</text>
<text x="294.0" y="911.9" font-size="11.4" fill="#1a1a1a" text-anchor="middle" stroke="#1a1a1a" stroke-width="0.2">148</text>
<text x="361.0" y="911.9" font-size="11.4" fill="#1a1a1a" text-anchor="middle" stroke="#1a1a1a" stroke-width="0.2">125</text>
<text x="428.7" y="911.9" font-size="11.4" fill="#1a1a1a" text-anchor="middle" stroke="#1a1a1a" stroke-width="0.2">95</text>
<text x="-0.6" y="923.8" font-size="12.1" font-weight="700" fill="#2d6b9c" textLength="59.6" lengthAdjust="spacingAndGlyphs" stroke="#2d6b9c" stroke-width="0.12">wt/any.tx</text>
<text x="94.2" y="926.6" font-size="11.4" fill="#1a1a1a" text-anchor="middle" stroke="#1a1a1a" stroke-width="0.2">151</text>
<text x="159.5" y="926.6" font-size="11.4" fill="#1a1a1a" text-anchor="middle" stroke="#1a1a1a" stroke-width="0.2">144</text>
<text x="226.0" y="926.6" font-size="11.4" fill="#1a1a1a" text-anchor="middle" stroke="#1a1a1a" stroke-width="0.2">116</text>
<text x="294.0" y="926.6" font-size="11.4" fill="#1a1a1a" text-anchor="middle" stroke="#1a1a1a" stroke-width="0.2">94</text>
<text x="361.0" y="926.6" font-size="11.4" fill="#1a1a1a" text-anchor="middle" stroke="#1a1a1a" stroke-width="0.2">82</text>
<text x="428.7" y="926.6" font-size="11.4" fill="#1a1a1a" text-anchor="middle" stroke="#1a1a1a" stroke-width="0.2">59</text>
<text x="0.4" y="936.6" font-size="12.1" font-weight="700" fill="#3d9a4e" textLength="62.1" lengthAdjust="spacingAndGlyphs" stroke="#3d9a4e" stroke-width="0.12">mut/no.tx</text>
<text x="94.2" y="938.5" font-size="11.4" fill="#1a1a1a" text-anchor="middle" stroke="#1a1a1a" stroke-width="0.2">15</text>
<text x="159.5" y="938.5" font-size="11.4" fill="#1a1a1a" text-anchor="middle" stroke="#1a1a1a" stroke-width="0.2">15</text>
<text x="226.0" y="938.5" font-size="11.4" fill="#1a1a1a" text-anchor="middle" stroke="#1a1a1a" stroke-width="0.2">15</text>
<text x="294.0" y="938.5" font-size="11.4" fill="#1a1a1a" text-anchor="middle" stroke="#1a1a1a" stroke-width="0.2">14</text>
<text x="361.0" y="938.5" font-size="11.4" fill="#1a1a1a" text-anchor="middle" stroke="#1a1a1a" stroke-width="0.2">14</text>
<text x="428.7" y="938.5" font-size="11.4" fill="#1a1a1a" text-anchor="middle" stroke="#1a1a1a" stroke-width="0.2">11</text>
<text x="0.4" y="948.5" font-size="12.1" font-weight="700" fill="#6a4385" textLength="69.0" lengthAdjust="spacingAndGlyphs" stroke="#6a4385" stroke-width="0.12">mut/any.tx</text>
<text x="94.2" y="950.4" font-size="11.4" fill="#1a1a1a" text-anchor="middle" stroke="#1a1a1a" stroke-width="0.2">22</text>
<text x="159.5" y="950.4" font-size="11.4" fill="#1a1a1a" text-anchor="middle" stroke="#1a1a1a" stroke-width="0.2">21</text>
<text x="226.0" y="950.4" font-size="11.4" fill="#1a1a1a" text-anchor="middle" stroke="#1a1a1a" stroke-width="0.2">21</text>
<text x="294.0" y="950.4" font-size="11.4" fill="#1a1a1a" text-anchor="middle" stroke="#1a1a1a" stroke-width="0.2">17</text>
<text x="361.0" y="950.4" font-size="11.4" fill="#1a1a1a" text-anchor="middle" stroke="#1a1a1a" stroke-width="0.2">16</text>
<text x="428.7" y="950.4" font-size="11.4" fill="#1a1a1a" text-anchor="middle" stroke="#1a1a1a" stroke-width="0.2">13</text>
<text x="246.0" y="966.9" font-size="10.6" fill="#1a1a1a" textLength="80.4" lengthAdjust="spacingAndGlyphs" stroke="#1a1a1a" stroke-width="0.32">Numbers at risk</text>
</svg>
</body></html>
